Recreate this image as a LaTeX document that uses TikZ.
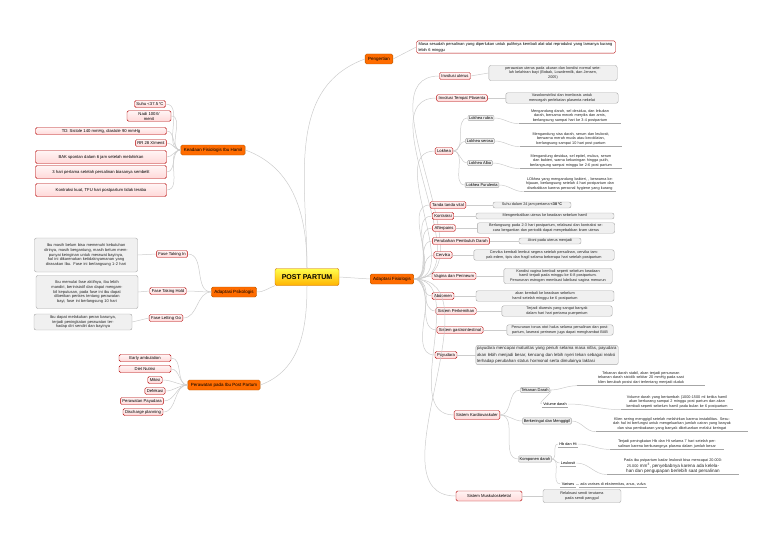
\documentclass[tikz,border=0pt]{standalone}
\usepackage{fontspec}
\setmainfont{Liberation Sans}
\begin{document}
\begin{tikzpicture}[x=1pt,y=-1pt,
 every node/.style={inner sep=1.2pt,align=center,font=\fontsize{3.8}{4.5}\selectfont},
 mainn/.style={draw=orange!80!black,top color=yellow!70,bottom color=orange!60!yellow,rounded corners=2pt,font=\fontsize{7}{8}\selectfont\bfseries,minimum width=64,minimum height=17},
 cat/.style={fill=orange!85!red,draw=orange!70!black,rounded corners=1.5pt,minimum height=10,inner xsep=3pt,font=\fontsize{4.5}{5.5}\selectfont},
 leaf/.style={draw=red!70!black,top color=red!4,bottom color=red!15,rounded corners=1.5pt,minimum height=7,inner xsep=2pt,font=\fontsize{4.2}{5}\selectfont},
 desc/.style={draw=gray!70,fill=gray!12,rounded corners=2pt,text=gray!30!black},
 sub/.style={draw=gray!70,fill=gray!12,rounded corners=1pt,font=\fontsize{4}{5}\selectfont},
 ul/.style={append after command={(\tikzlastnode.south west) edge[gray!70,line width=0.5pt] (\tikzlastnode.south east)}},
 con/.style={draw=gray!40,line width=0.5pt}]
\useasboundingbox (0,0) rectangle (768,543);
% centre
\node[mainn] (pp) at (307,277) {POST PARTUM};
\node[cat] (peng) at (379,59) {Pengertian};
\node[cat] (kf) at (213,150) {Keadaan Fisiologis Ibu Hamil};
\node[cat] (aps) at (234,292) {Adaptasi Psikologis};
\node[cat] (afi) at (392,279) {Adaptasi Fisiologis};
\node[cat] (pr) at (224,385) {Perawatan pada Ibu Post Partum};
\draw[con] (pp.north) to[out=90,in=200] (peng.west);
\draw[con] (pp.north) to[out=90,in=-20] (kf.east);
\draw[con] (pp.south west) to[out=200,in=0] (aps.east);
\draw[con] (pp.east) -- (afi.west);
\draw[con] (pp.south) to[out=-90,in=20] (pr.east);
% pengertian
\node[leaf,text width=195,align=left,font=\fontsize{4}{6}\selectfont,fill=white,top color=white,bottom color=white] (pengd) at (516,47) {Masa sesudah persalinan yang diperlukan untuk pulihnya kembali alat-alat reproduksi yang lamanya kurang lebih 6 minggu};
\draw[con] (peng.east) -- (pengd.west);
% keadaan fisiologis
\node[leaf] (k1) at (150,104) {Suhu <37.5\,°C};
\node[leaf,text width=40] (k2) at (149,116) {Nadi 100X/\\menit};
\node[leaf,minimum width=131] (k3) at (101,131) {TD: Sistole 140 mmHg, diastole 90 mmHg};
\node[leaf] (k4) at (151,143) {RR 28 X/menit};
\node[leaf,minimum width=131,minimum height=13] (k5) at (101,157) {BAK spontan dalam 6 jam setelah melahirkan};
\node[leaf,minimum width=131,minimum height=13] (k6) at (101,172) {3 hari pertama setelah persalinan biasanya sembelit};
\node[leaf,minimum width=131,minimum height=13] (k7) at (101,190) {Kontraksi kuat, TFU hari postpartum tidak teraba};
\foreach \n in {k1,k2,k3,k4,k5,k6,k7}{\draw[con] (kf.west) to[out=180,in=0] (\n.east);}
% adaptasi psikologis
\node[leaf] (ti) at (172,254) {Fase Taking In};
\node[leaf] (th) at (168,291) {Fase Taking Hold};
\node[leaf] (lg) at (166,318) {Fase Letting Go};
\foreach \n in {ti,th,lg}{\draw[con] (aps.west) to[out=180,in=0] (\n.east);}
\node[desc,text width=88,minimum width=103,minimum height=34,font=\fontsize{4}{4.9}\selectfont] (tid) at (86,255) {Ibu masih belum bisa memenuhi kebutuhan dirinya, masih bergantung, masih belum mempunyai keinginan untuk merawat bayinya, hal ini dikarenakan ketidaknyamanan yang dirasakan Ibu. Fase ini berlangsung 1-2 hari};
\node[desc,text width=76,minimum width=102,minimum height=33,font=\fontsize{4}{4.9}\selectfont] (thd) at (87,292) {Ibu memulai fase aktifnya, ibu lebih mandiri, berinisiatif dan dapat mengambil keputusan, pada fase ini ibu dapat diberikan penkes tentang perawatan bayi, fase ini berlangsung 10 hari};
\node[desc,text width=90,minimum width=98,font=\fontsize{4}{4.9}\selectfont] (lgd) at (83,322) {Ibu dapat melakukan peran barunya, terjadi peningkatan perawatan terhadap diri sendiri dan bayinya};
\draw[con] (ti.west) -- (tid.east);
\draw[con] (th.west) -- (thd.east);
\draw[con] (lg.west) -- (lgd.east);
% perawatan
\node[leaf,minimum width=52] (p1) at (145,358) {Early ambulation};
\node[leaf,minimum width=52] (p2) at (145,369) {Diet Nutrisi};
\node[leaf] (p3) at (155,380) {Mikisi};
\node[leaf] (p4) at (155,391) {Defekasi};
\node[leaf] (p5) at (142,401) {Perawatan Payudara};
\node[leaf] (p6) at (143,412) {Discharge planning};
\foreach \n in {p1,p2,p3,p4,p5,p6}{\draw[con] (pr.west) to[out=180,in=0] (\n.east);}
% adaptasi fisiologis children
\foreach \n/\x/\y/\t in {a1/455/76/{Involusi uterus},a2/462/98/{Involusi Tempat Plasenta},a3/444/151/{Lokhea},a4/448/205/{Tanda tanda vital},a5/443/216/{Kontraksi},a6/444/228/{Afterpains},a7/461/241/{Perubahan Pembuluh Darah},a8/443/255/{Cervika},a9/454/276/{Vagina dan Perineum},a10/443/296/{Abdomen},a11/456/311/{Sistem Perkemihan},a12/460/330/{Sistem gastrointestinal},a13/446/355/{Payudara}}{
 \node[leaf] (\n) at (\x,\y) {\t};
 \draw[con] (afi.east) to[out=0,in=180] (\n.west);}
\node[leaf,minimum height=9] (a14) at (477,415) {Sistem Kardiovaskuler};
\node[leaf,minimum height=10,minimum width=66] (a15) at (489,496) {Sistem Muskuloskeletal};
\foreach \n in {a14,a15}{\draw[con] (afi.east) to[out=0,in=180] (\n.west);}
% descriptions
\node[desc,text width=126] (d1) at (553,73) {perawatan uterus pada ukuran dan kondisi normal setelah kelahiran bayi (Bobak, Lowdermilk, dan Jensen,\\2005)};
\node[desc,text width=110] (d2) at (562,98) {Vasokonstriksi dan trombosis untuk mencegah perlekatan plasenta nekelat};
\draw[con] (a1.east) -- (d1.west);
\draw[con] (a2.east) -- (d2.west);
\node[sub] (l1) at (481,118) {Lokhea rubra};
\node[sub] (l2) at (480,141) {Lokhea serosa};
\node[sub] (l3) at (480,163) {Lokhea Alba};
\node[sub] (l4) at (482,185) {Lokhea Purulenta};
\foreach \n in {l1,l2,l3,l4}{\draw[con] (a3.east) to[out=0,in=180] (\n.west);}
\node[ul,text width=100,text=gray!30!black] (ld1) at (570,116) {Mengandung darah, sel desidua, dan lekukan darah, bersama mecek meryiks dan arnis, berlangsung sampai hari ke 3-4 postpartum};
\node[ul,text width=100,text=gray!30!black] (ld2) at (571,139) {Mengandung sisa darah, serum dan leukosit, berwarna merah muda atau kecoklatan, berlangsung sampai 10 hari post partum};
\node[ul,text width=100,text=gray!30!black] (ld3) at (571,161) {Mengandung desidua, sel epitel, mukus, serum dan bakteri, warna kekuningan hingga putih, berlangsung sampai minggu ke 2-6 post partum};
\node[ul,text width=90,text=gray!30!black] (ld4) at (570,184) {LOkhea yang mengandung bakteri, , berwarna kehijauan, berlangsung setelah 4 hari postpartum dan disebabkan karena personal hygiene yang kurang};
\draw[con] (l1.east) to[out=0,in=180] (ld1.south west);
\draw[con] (l2.east) to[out=0,in=180] (ld2.south west);
\draw[con] (l3.east) to[out=0,in=180] (ld3.south west);
\draw[con] (l4.east) to[out=0,in=180] (ld4.south west);
\node[desc,minimum width=78] (d4) at (532,205) {Suhu dalam 24 jam pertama \textbf{\textless38\,°C}};
\node[desc,minimum width=138] (d5) at (545,216) {Mengembalikan uterus ke keadaan sebelum hamil};
\node[desc,text width=135] (d6) at (546,228) {Berlangsung pada 2-3 hari postpartum, relaksasi dan kontraksi secara bergantian dan periodik dapat menyebabkan kram uterus};
\node[desc,minimum width=62] (d7) at (550,241) {Atoni pada uterus menjadi};
\node[desc,text width=138] (d8) at (544,255) {Cervika kembali lembut segera setelah persalinan, cervika tampak edem, tipis dan fragil selama beberapa hari setelah postpartum};
\node[desc,text width=106] (d9) at (558,276) {Kondisi vagina kembali seperti sebelum keadaan hamil terjadi pada minggu ke 6-8 postpartum.\\Penurunan estrogen membuat lubrikasi vagina menurun};
\node[desc,text width=120,minimum width=138] (d10) at (545,296) {akan kembali ke keadaan sebelum hamil setelah minggu ke 6 postpartum};
\node[desc,text width=108] (d11) at (557,311) {Terjadi diuresis yang sangat banyak dalam hari hari pertama puerperium};
\node[desc,text width=104] (d12) at (560,330) {Penurunan tonus otot halus selama persalinan dan postpartum, laserasi perineum juga dapat menghambat BAB};
\node[desc,text width=140,align=left,font=\fontsize{4.3}{6.4}\selectfont] (d13) at (547,355) {payudara mencapai maturitas yang penuh selama masa nifas, payudara akan lebih menjadi besar, kencang dan lebih nyeri tekan sebagai reaksi terhadap perubahan status hormonal serta dimulainya laktasi};
\foreach \i in {4,...,13}{\draw[con] (a\i.east) -- (d\i.west);}
% kardiovaskuler
\node[sub] (kv1) at (535,390) {Tekanan Darah};
\node[sub] (kv2) at (547,421) {Berkeringat dan Menggigil};
\node[sub] (kv3) at (535,459) {Komponen darah};
\node[ul] (kv4) at (555,404) {Volume darah};
\node[ul] (kv5) at (568,444) {Hb dan Ht};
\node[ul] (kv6) at (568,463) {Leukosit};
\node[ul] (kv7) at (568,484) {Varises};
\foreach \n in {kv1,kv2,kv3}{\draw[con] (a14.east) to[out=0,in=180] (\n.west);}
\draw[con] (kv1.east) to[out=0,in=180] (kv4.west);
\foreach \n in {kv5,kv6,kv7}{\draw[con] (kv3.east) to[out=0,in=180] (\n.west);}
\node[ul,text width=125,text=gray!30!black] (kd1) at (641,378) {Tekanan darah stabil, akan terjadi penurunan tekanan darah sistolik sekitar 20 mmHg pada saat klien berubah posisi dari terlentang menjadi duduk};
\node[ul,text width=110,text=gray!30!black] (kd2) at (677,402) {Volume darah yang bertambah (1000-1500 ml ketika hamil akan berkurang sampai 2 minggu post partum dan akan kembali seperti sebelum hamil pada bulan ke 6 postpartum};
\node[ul,text width=150,text=gray!30!black] (kd3) at (672,424) {Klien sering menggigil setelah melahirkan karena instabilitas. Sesudah hal ini berfungsi untuk mengeluarkan jumlah cairan yang banyak dan sisa pembakaran yang banyak dikeluarkan melalui keringat};
\node[ul,text width=112,text=gray!30!black] (kd5) at (667,444) {Terjadi peningkatan Hb dan Ht selama 7 hari setelah persalinan karena berkurangnya plasma dalam jumlah besar};
\node[ul,text width=130,text=gray!30!black] (kd6) at (673,466) {Pada ibu pstpartum kadar leukosit bisa mencapai 20.000-25.000 {\fontsize{4.6}{5.6}\selectfont mm\textsuperscript{3}, penyebabnya karena ada kelelahan dan pengupapan berlebih saat persalinan}};
\node[ul,text=gray!30!black] (kd7) at (613,484) {ada varises di ekstremitas, anus, vulva};
\draw[con] (kv1.east) to[out=0,in=180] (kd1.south west);
\draw[con] (kv4.east) to[out=0,in=180] (kd2.south west);
\draw[con] (kv2.east) to[out=0,in=180] (kd3.south west);
\draw[con] (kv5.east) to[out=0,in=180] (kd5.south west);
\draw[con] (kv6.east) to[out=0,in=180] (kd6.south west);
\draw[con] (kv7.east) -- (kd7.west);
\node[desc,text width=62,minimum width=78,minimum height=13] (d15) at (582,496) {Relaksasi sendi terutama pada sendi panggul};
\draw[con] (a15.east) -- (d15.west);
\end{tikzpicture}
\end{document}
